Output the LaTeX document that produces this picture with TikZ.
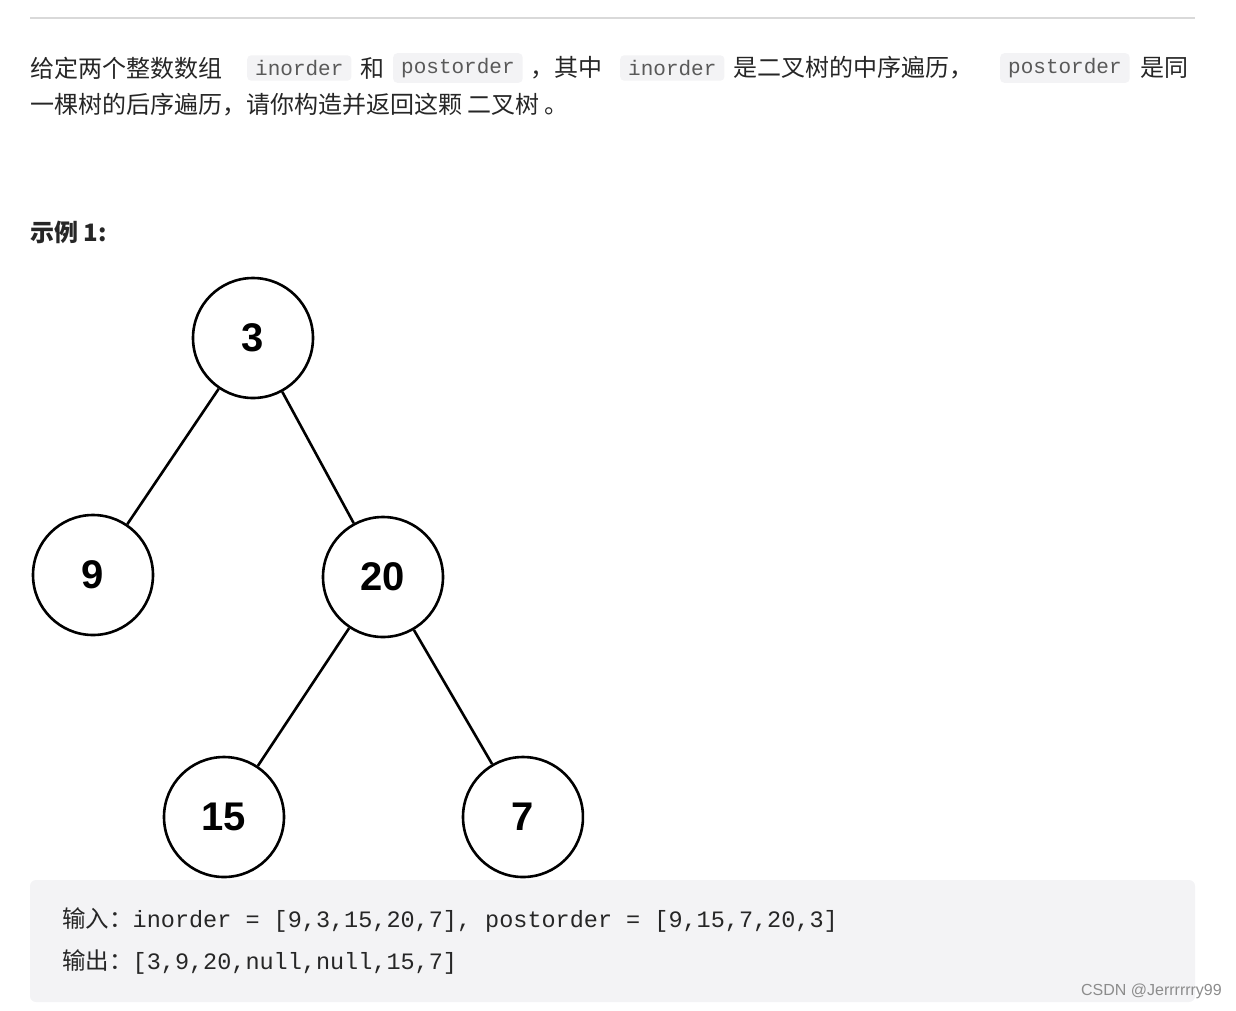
\documentclass[tikz,border=0pt]{standalone}
\usepackage{fontspec}
\setmainfont{Liberation Sans}
\newfontfamily\cjk{Noto Sans CJK SC}
\newfontfamily\codefont{Liberation Mono}
\usetikzlibrary{positioning}
\definecolor{codebg}{HTML}{F3F3F5}
\definecolor{txt}{HTML}{262626}
\tikzset{
  treenode/.style={circle,draw,line width=2.6pt,minimum size=120pt,inner sep=0pt,
    font=\fontsize{40}{40}\selectfont\bfseries},
  treeedge/.style={line width=2.6pt},
  para/.style={anchor=west,inner sep=0pt,text=txt,font=\cjk\fontsize{24}{24}\selectfont},
  code/.style={anchor=west,fill=codebg,rounded corners=4pt,inner xsep=8pt,inner ysep=5pt,
    text=black!65,font=\codefont\fontsize{21}{21}\selectfont},
  sample/.style={anchor=west,inner sep=0pt,text=txt,font=\codefont\fontsize{23.5}{23.5}\selectfont}
}
\begin{document}
\begin{tikzpicture}[x=1pt,y=-1pt]
\useasboundingbox (0,0) rectangle (1236,1010);
\draw[black!15,line width=1.2pt] (30,18) -- (1195,18);
% description
\node[para] (p1) at (30,68) {给定两个整数数组};
\node[code] (c1) at (247,68) {inorder};
\node[para] (p2) at (360,68) {和};
\node[code] (c2) at (393,68) {postorder};
\node[para] (p3) at (530,68) {，其中};
\node[code] (c3) at (620,68) {inorder};
\node[para] (p4) at (733,68) {是二叉树的中序遍历，};
\node[code] (c4) at (1000,68) {postorder};
\node[para] (p5) at (1140,68) {是同};
\node[para] (p6) at (30,105) {一棵树的后序遍历，请你构造并返回这颗 \textit{二叉树} 。};
\node[para,font=\cjk\bfseries\fontsize{24}{24}\selectfont] (ex) at (30,232) {示例 1:};
% tree
\begin{scope}
\clip (0,270) rectangle (584,880);
\node[treenode] (n3) at (253,338) {3};
\node[treenode] (n9) at (93,575) {9};
\node[treenode] (n20) at (383,577) {20};
\node[treenode] (n15) at (224,817) {15};
\node[treenode] (n7) at (523,817) {7};
\draw[treeedge] (n3) -- (n9);
\draw[treeedge] (n3) -- (n20);
\draw[treeedge] (n20) -- (n15);
\draw[treeedge] (n20) -- (n7);
\end{scope}
% sample box
\fill[codebg,rounded corners=6pt] (30,880) rectangle (1195,1002);
\node[sample] (in) at (62,920) {{\cjk 输入：}inorder = [9,3,15,20,7], postorder = [9,15,7,20,3]};
\node[sample] (out) at (62,962) {{\cjk 输出：}[3,9,20,null,null,15,7]};
\node[anchor=east,inner sep=0pt,text=black!45,font=\fontsize{16}{16}\selectfont] (wm) at (1222,991) {CSDN @Jerrrrrry99};
\end{tikzpicture}
\end{document}
